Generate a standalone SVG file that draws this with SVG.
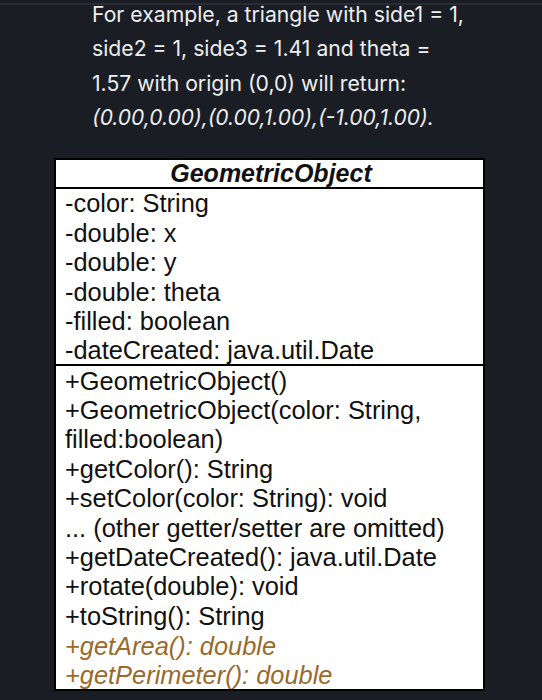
<svg xmlns="http://www.w3.org/2000/svg" width="542" height="700" viewBox="0 0 542 700">
<style>
.p{font-family:Inter,"Noto Sans",sans-serif;font-size:21.2px;fill:#eceef0}
.pi{font-family:Inter,"Noto Sans",sans-serif;font-size:21px;fill:#eceef0;font-style:italic}
.t{font-family:"Liberation Sans",Arial,sans-serif;font-size:25.4px;fill:#111}
.h{font-family:"Liberation Sans",Arial,sans-serif;font-size:25px;font-weight:bold;font-style:italic;fill:#111}
.a{font-family:"Liberation Sans",Arial,sans-serif;font-size:25.4px;font-style:italic;fill:#9a6a2c}
</style>
<rect width="542" height="700" fill="#1b1d24"/>
<line x1="0" y1="4" x2="542" y2="4" stroke="#3a3c43" stroke-width="1"/>
<g id="intro">
<text class="p" x="92" y="22">For example, a triangle with side1 = 1,</text>
<text class="p" x="92" y="56">side2 = 1, side3 = 1.41 and theta =</text>
<text class="p" x="92" y="91">1.57 with origin (0,0) will return:</text>
<text class="pi" x="92" y="125">(0.00,0.00),(0.00,1.00),(-1.00,1.00).</text>
</g>
<g id="GeometricObject">
<rect x="55" y="159" width="429" height="531" fill="#fff" stroke="#000" stroke-width="2"/>
<line x1="55" y1="188" x2="484" y2="188" stroke="#000" stroke-width="2"/>
<line x1="55" y1="365" x2="484" y2="365" stroke="#000" stroke-width="2"/>
<text class="h" x="271" y="182" text-anchor="middle">GeometricObject</text>
<text class="t" x="65" y="212">-color: String</text>
<text class="t" x="65" y="242">-double: x</text>
<text class="t" x="65" y="271">-double: y</text>
<text class="t" x="65" y="301">-double: theta</text>
<text class="t" x="65" y="330">-filled: boolean</text>
<text class="t" x="65" y="359">-dateCreated: java.util.Date</text>
<text class="t" x="65" y="390">+GeometricObject()</text>
<text class="t" x="65" y="419">+GeometricObject(color: String,</text>
<text class="t" x="65" y="448">filled:boolean)</text>
<text class="t" x="65" y="478">+getColor(): String</text>
<text class="t" x="65" y="507">+setColor(color: String): void</text>
<text class="t" x="65" y="537">... (other getter/setter are omitted)</text>
<text class="t" x="65" y="566">+getDateCreated(): java.util.Date</text>
<text class="t" x="65" y="595">+rotate(double): void</text>
<text class="t" x="65" y="625">+toString(): String</text>
<text class="a" x="65" y="655">+getArea(): double</text>
<text class="a" x="65" y="684">+getPerimeter(): double</text>
</g>
</svg>
